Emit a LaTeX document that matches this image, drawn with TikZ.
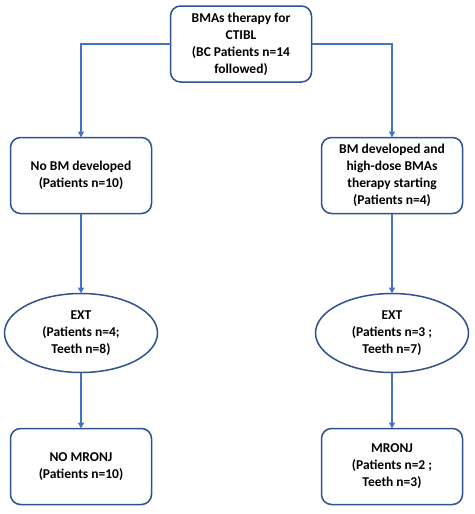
\documentclass[tikz,border=0pt]{standalone}
\usepackage{fontspec}
\setmainfont{Carlito}
\usetikzlibrary{arrows.meta,positioning,shapes.geometric}
\definecolor{boxblue}{HTML}{2F528F}
\definecolor{arrowblue}{HTML}{4472C4}
\tikzstyle{box}=[rectangle,outer sep=0pt,inner sep=2pt,draw=boxblue,rounded corners=10pt,align=center,line width=1.5pt,minimum width=141pt,minimum height=76pt,font=\bfseries\fontsize{13.5}{17}\selectfont]
\tikzstyle{ext}=[ellipse,outer sep=0pt,inner sep=0pt,draw=boxblue,align=center,line width=1.5pt,minimum width=153pt,minimum height=79pt,font=\bfseries\fontsize{13.5}{17}\selectfont]
\tikzstyle{flow}=[-{Triangle[length=6pt,width=6pt]},draw=arrowblue,line width=1.5pt]

\begin{document}
\begin{tikzpicture}[x=1pt,y=-1pt]
\useasboundingbox (0,0) rectangle (474,514);

\node (bma) [box] at (241,44) {BMAs therapy for\\CTIBL\\(BC Patients n=14\\followed)} ;
\node (nobm) [box] at (81,175.5) {No BM developed\\(Patients n=10)} ;
\node (bmhd) [box] at (392,175.5) {BM developed and\\high-dose BMAs\\therapy starting\\(Patients n=4)} ;

\draw [flow] (bma.west) -| (nobm.north) ;
\draw [flow] (bma.east) -| (bmhd.north) ;

\node (extl) [ext,below=80pt of nobm] {EXT\\(Patients n=4;\\Teeth n=8)} ;
\node (extr) [ext,below=80pt of bmhd] {EXT\\(Patients n=3 ;\\Teeth n=7)} ;

\draw [flow] (nobm) -- (extl) ;
\draw [flow] (bmhd) -- (extr) ;

\node (nomr) [box,below=56pt of extl] {NO MRONJ\\(Patients n=10)} ;
\node (mr) [box,below=56pt of extr] {MRONJ\\(Patients n=2 ;\\Teeth n=3)} ;

\draw [flow] (extl) -- (nomr) ;
\draw [flow] (extr) -- (mr) ;

\end{tikzpicture}
\end{document}
